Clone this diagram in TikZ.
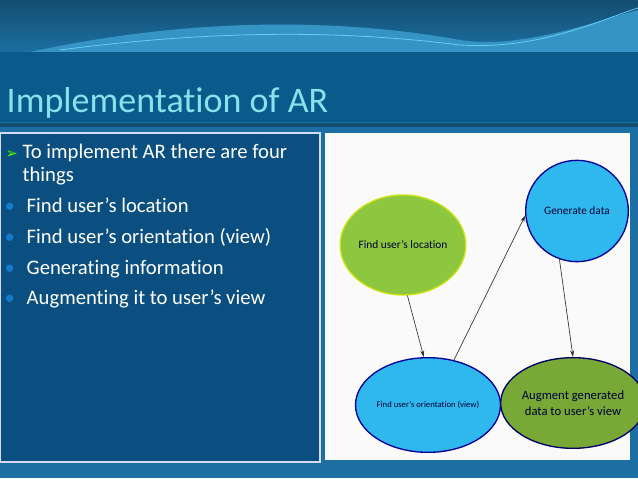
\documentclass[tikz,border=0pt]{standalone}
\usepackage{fontspec}
\setmainfont[Ligatures=NoCommon]{Carlito}
\newfontfamily\dejavu{DejaVu Sans}
\usetikzlibrary{arrows.meta,shapes.geometric}
\definecolor{band}{HTML}{0B5A8C}
\definecolor{deep}{HTML}{0B4F80}
\definecolor{bgb}{HTML}{1C6FA2}
\definecolor{titlec}{HTML}{86E3EC}
\definecolor{gfill}{HTML}{8DC63F}
\definecolor{bfill}{HTML}{2FB8EE}
\tikzset{
  blob/.style={ellipse, draw=#1, line width=1pt, inner sep=0pt},
  lab/.style={font=\fontsize{8.5}{10}\selectfont, text=black!80!blue, align=center},
  conn/.style={-{Stealth[length=5pt,width=3pt]}, draw=black!80, line width=0.5pt},
  item/.style={anchor=base west, text=white, font=\fontsize{15.5}{18}\selectfont},
}
\begin{document}
\begin{tikzpicture}[x=0.75pt,y=-0.75pt]
\useasboundingbox (0,0) rectangle (638,478);
\fill[bgb] (0,0) rectangle (638,478);
\shade[top color=bgb!70!black, bottom color=bgb] (0,0) rectangle (638,52);
\fill[cyan!50!bgb] (30,52) .. controls (200,15) and (350,20) .. (460,40) .. controls (520,50) and (600,20) .. (638,10) -- (638,52) -- cycle;
\draw[cyan!60, line width=0.6pt] (60,50) .. controls (250,25) and (380,35) .. (460,45) .. controls (540,50) and (600,20) .. (638,8);
\fill[band] (0,52) rectangle (638,122);
\node[anchor=base west, text=titlec, font=\fontsize{27}{30}\selectfont] (title) at (2,112) {Implementation of AR};
\fill[bgb!70!black] (0,123) rectangle (638,127);
% left panel
\fill[deep] (0,133) rectangle (320,462);
\draw[white!85!blue, line width=1.5pt] (0,133) rectangle (320,462);
\node[item, text=green!70!yellow, font=\dejavu\fontsize{11}{12}\selectfont] (arr) at (1,158) {➢};
\node[item] (l1) at (18,158) {To implement AR there are four};
\node[item] (l2) at (18,181) {things};
\foreach \y/\t [count=\i] in {212/Find user’s location, 243/Find user’s orientation (view), 274/Generating information, 304/Augmenting it to user’s view}{
  \node[item, text=cyan!60!blue] (b\i) at (0,\y) {•};
  \node[item] (t\i) at (22,\y) {\t};
}
% right panel
\fill[white!96!gray] (325,133) rectangle (630,460);
\node[blob=yellow!80!green, fill=gfill, minimum width=75pt, minimum height=75pt, lab] (loc) at (403,245) {Find user’s location};
\node[blob=blue!60!black, fill=bfill, minimum width=77pt, minimum height=76pt, lab] (gen) at (577,211) {Generate data};
\node[blob=blue!60!black, fill=bfill, minimum width=82pt, minimum height=71pt, lab, font=\fontsize{6.5}{8}\selectfont] (ori) at (428,405) {Find user’s orientation (view)};
\node[blob=blue!40!black, fill=gfill!85!black, minimum width=78pt, minimum height=68pt, lab, font=\fontsize{9.5}{11.5}\selectfont] (aug) at (573,403) {Augment generated\\data to user’s view};
\draw[conn] (loc.-85) -- (ori.95);
\draw[conn] (ori.60) -- (gen.185);
\draw[conn] (gen.250) -- (aug.north);
\end{tikzpicture}
\end{document}
